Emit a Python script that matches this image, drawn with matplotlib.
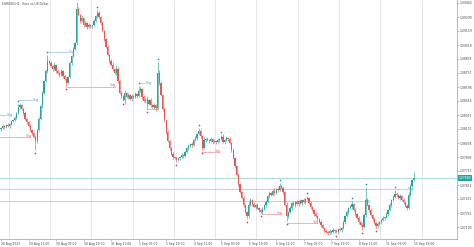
import matplotlib

matplotlib.use("Agg")
import matplotlib.pyplot as plt  # noqa: E402
import numpy as np  # noqa: E402

BULL = "#26a69a"
BEAR = "#ef5350"
BLUE = "#2f7fd8"
BLUE_LINE = "#a9cbee"
RED_LINE = "#f3a3aa"
GRID = "#e3e3e3"
AXIS = "#9a9a9a"
TXT = "#444444"

# hourly closes, 28 Aug 19:00 .. 11 Sep 19:00
closes = [
    1.0818, 1.0820, 1.0819, 1.0821, 1.0820,
    # 29 Aug
    1.0822, 1.0825, 1.0827, 1.0829, 1.0834, 1.0840, 1.0842, 1.0838, 1.0834, 1.0828, 1.0824, 1.0820,
    1.0816, 1.0813, 1.0809, 1.0805, 1.0816, 1.0828, 1.0841, 1.0854, 1.0866, 1.0876, 1.0886, 1.0884,
    # 30 Aug
    1.0881, 1.0878, 1.0882, 1.0876, 1.0874, 1.0872, 1.0876, 1.0871, 1.0868, 1.0864, 1.0870, 1.0884,
    1.0891, 1.0898, 1.0904, 1.0938, 1.0932, 1.0926, 1.0929, 1.0922, 1.0924, 1.0920, 1.0922, 1.0921,
    # 31 Aug
    1.0922, 1.0926, 1.0931, 1.0934, 1.0930, 1.0924, 1.0916, 1.0908, 1.0900, 1.0892, 1.0886, 1.0882,
    1.0878, 1.0874, 1.0878, 1.0866, 1.0854, 1.0851, 1.0847, 1.0854, 1.0850, 1.0852, 1.0848, 1.0851,
    # 1 Sep
    1.0850, 1.0853, 1.0851, 1.0856, 1.0858, 1.0850, 1.0846, 1.0848, 1.0843, 1.0847, 1.0842, 1.0840,
    1.0842, 1.0839, 1.0874, 1.0864, 1.0852, 1.0838, 1.0826, 1.0814, 1.0805, 1.0798, 1.0792, 1.0789,
    # 4 Sep
    1.0788, 1.0786, 1.0788, 1.0789, 1.0791, 1.0790, 1.0794, 1.0798, 1.0800, 1.0802, 1.0801, 1.0806,
    1.0808, 1.0812, 1.0815, 1.0810, 1.0798, 1.0806, 1.0807, 1.0806, 1.0805, 1.0807, 1.0804, 1.0805,
    # 5 Sep
    1.0804, 1.0806, 1.0807, 1.0809, 1.0804, 1.0806, 1.0808, 1.0807, 1.0803, 1.0796, 1.0788, 1.0780,
    1.0771, 1.0762, 1.0754, 1.0748, 1.0741, 1.0734, 1.0730, 1.0741, 1.0746, 1.0742, 1.0739, 1.0741,
    # 6 Sep
    1.0738, 1.0736, 1.0734, 1.0737, 1.0741, 1.0744, 1.0750, 1.0753, 1.0751, 1.0755, 1.0753, 1.0757,
    1.0756, 1.0760, 1.0758, 1.0754, 1.0741, 1.0730, 1.0734, 1.0738, 1.0743, 1.0741, 1.0744, 1.0742,
    # 7 Sep
    1.0745, 1.0743, 1.0746, 1.0744, 1.0747, 1.0748, 1.0743, 1.0739, 1.0736, 1.0732, 1.0730, 1.0727,
    1.0724, 1.0721, 1.0718, 1.0715, 1.0714, 1.0713, 1.0715, 1.0714, 1.0716, 1.0715, 1.0714, 1.0717,
    # 8 Sep
    1.0716, 1.0718, 1.0724, 1.0730, 1.0734, 1.0738, 1.0739, 1.0742, 1.0736, 1.0732, 1.0728, 1.0724,
    1.0721, 1.0719, 1.0731, 1.0746, 1.0741, 1.0736, 1.0731, 1.0727, 1.0723, 1.0720, 1.0722, 1.0724,
    # 11 Sep
    1.0726, 1.0728, 1.0729, 1.0732, 1.0736, 1.0741, 1.0746, 1.0749, 1.0752, 1.0751, 1.0748, 1.0750,
    1.0746, 1.0744, 1.0740, 1.0738, 1.0751, 1.0760, 1.0766, 1.0768,
]
first_open = 1.0817

# wick lengths in pips above / below the body
upper_wick = [
    1, 2, 1, 1, 2,
    1, 2, 1, 2, 1, 3, 2, 1, 1, 2, 1, 1, 2, 1, 1, 2, 1, 2, 1, 2, 1, 2, 6, 1,
    2, 1, 3, 1, 2, 1, 2, 1, 1, 2, 1, 2, 1, 2, 1, 7, 2, 1, 3, 1, 2, 1, 2, 1,
    1, 2, 1, 3, 2, 1, 2, 1, 1, 2, 1, 2, 3, 1, 4, 2, 1, 2, 1, 3, 1, 2, 1, 2,
    1, 2, 1, 5, 2, 1, 2, 1, 3, 1, 2, 1, 2, 1, 11, 3, 2, 1, 2, 1, 2, 1, 1, 2,
    1, 2, 1, 1, 2, 1, 2, 1, 2, 1, 2, 1, 2, 1, 3, 2, 1, 3, 1, 2, 1, 2, 1, 2,
    1, 2, 1, 2, 3, 1, 2, 1, 2, 1, 2, 1, 1, 2, 1, 1, 2, 1, 1, 4, 2, 1, 2, 1,
    2, 1, 1, 2, 1, 2, 1, 2, 1, 2, 3, 1, 2, 3, 1, 2, 1, 3, 1, 2, 1, 2, 1, 2,
    1, 2, 1, 2, 1, 2, 1, 2, 1, 1, 2, 1, 1, 2, 1, 1, 2, 1, 2, 1, 2, 1, 2, 1,
    2, 1, 2, 1, 2, 1, 2, 3, 1, 2, 1, 2, 1, 2, 2, 13, 2, 1, 2, 1, 2, 1, 2, 1,
    1, 2, 1, 2, 1, 2, 1, 2, 4, 2, 1, 2, 1, 2, 1, 2, 3, 2, 1, 6,
]
lower_wick = [
    2, 1, 2, 1, 1,
    2, 1, 1, 2, 1, 1, 2, 1, 2, 1, 2, 1, 1, 2, 1, 9, 2, 1, 1, 2, 1, 1, 2, 1,
    1, 2, 1, 2, 1, 2, 1, 2, 1, 3, 1, 1, 2, 1, 1, 2, 1, 2, 1, 2, 1, 2, 1, 2,
    2, 1, 1, 2, 1, 2, 1, 2, 1, 1, 2, 1, 2, 1, 2, 2, 1, 2, 1, 4, 1, 2, 1, 2,
    2, 1, 2, 1, 1, 2, 1, 2, 5, 1, 2, 1, 2, 3, 1, 2, 1, 2, 1, 2, 1, 2, 1, 2,
    1, 2, 1, 2, 1, 2, 1, 1, 2, 1, 2, 1, 1, 2, 1, 2, 2, 1, 2, 1, 2, 1, 2, 1,
    2, 1, 2, 1, 1, 2, 1, 2, 1, 2, 1, 2, 1, 2, 1, 1, 2, 1, 3, 2, 1, 2, 1, 2,
    1, 2, 1, 2, 1, 2, 1, 2, 1, 1, 2, 1, 2, 1, 1, 2, 1, 5, 2, 1, 2, 1, 2, 1,
    2, 1, 2, 1, 2, 1, 1, 2, 1, 2, 1, 2, 1, 2, 1, 2, 1, 2, 1, 2, 1, 2, 1, 2,
    1, 2, 1, 2, 1, 2, 1, 2, 1, 2, 1, 2, 1, 3, 1, 2, 1, 2, 1, 2, 1, 2, 2, 1,
    2, 1, 2, 1, 2, 1, 2, 1, 1, 2, 1, 2, 1, 2, 1, 2, 1, 2, 1, 1,
]

swing_high_bars = [10, 27, 44, 56, 80, 91, 115, 128, 162, 178, 204, 212, 229]
swing_low_bars = [20, 38, 71, 85, 102, 117, 143, 151, 166, 195, 210, 218]

# signal levels: (start bar, end bar, price)
sig_up = [(-1, 3, 1.0832), (10, 18, 1.0847), (27, 39, 1.0895), (80, 84, 1.0864),
          (-1, 211, 1.0745), (-1, 236, 1.0757)]
sig_dn = [(-1, 17, 1.0809), (38, 66, 1.0860), (85, 91, 1.0838), (117, 127, 1.0794),
          (152, 163, 1.0732), (166, 184, 1.0723)]

day_starts = [5, 29, 53, 77, 101, 125, 149, 173, 197, 221, 245]
x_tick_bars = [0, 16, 32, 48, 64, 80, 96, 112, 128, 144, 160, 176, 192, 208, 224, 240]
x_tick_labels = ["28 Aug 2023", "29 Aug 11:00", "30 Aug 03:00", "30 Aug 19:00",
                 "31 Aug 11:00", "1 Sep 03:00", "1 Sep 19:00", "4 Sep 11:00",
                 "5 Sep 03:00", "5 Sep 19:00", "6 Sep 11:00", "7 Sep 03:00",
                 "7 Sep 19:00", "8 Sep 11:00", "11 Sep 03:00", "11 Sep 19:00"]
price_ticks = [1.09440, 1.09299, 1.09159, 1.09018, 1.08878, 1.08737, 1.08596, 1.08456,
               1.08315, 1.08175, 1.08034, 1.07893, 1.07753, 1.07612, 1.07472, 1.07331,
               1.07190]
last_price = 1.0768

PIP = 0.0001

closes_a = np.array(closes)
opens_a = np.concatenate([[first_open], closes_a[:-1]])
highs_a = np.maximum(opens_a, closes_a) + np.array(upper_wick) * PIP
lows_a = np.minimum(opens_a, closes_a) - np.array(lower_wick) * PIP
bars = np.arange(len(closes_a))
up = closes_a >= opens_a
colors = np.where(up, BULL, BEAR)

fig = plt.figure(figsize=(4.74, 2.47), dpi=100)
ax = fig.add_axes([0, 8 / 247, 457 / 474, 239 / 247])
ax.set_xlim(-0.58, 265.1)
ax.set_ylim(1.0707, 1.0947)

for d in day_starts:
    ax.axvline(d - 0.5, color=GRID, lw=0.6, zorder=0)

# level lines
ax.axhline(last_price, color="#9ed6d0", lw=0.6, zorder=1)
for b0, b1, p in sig_up:
    ax.plot([b0, b1], [p, p], color=BLUE_LINE, lw=0.6, zorder=1)
    ax.text(b1 + 0.3, p, "Sig", color="#5b9de6", fontsize=2.8, ha="left", va="center")
for b0, b1, p in sig_dn:
    ax.plot([b0, b1], [p, p], color=RED_LINE, lw=0.6, zorder=1)
    ax.text(b1 - 2.5, p + 0.00012, "Sig", color="#ee6b78", fontsize=2.8, ha="left",
            va="center")

ax.vlines(bars, lows_a, highs_a, colors=colors, lw=0.45, zorder=2)
body = np.abs(closes_a - opens_a)
body = np.maximum(body, 0.00005)
ax.bar(bars, body, bottom=np.minimum(opens_a, closes_a), width=0.72, color=colors,
       linewidth=0, zorder=3)

ax.scatter(swing_high_bars, highs_a[swing_high_bars] + 3 * PIP, s=1.4, color=BLUE,
           linewidths=0, zorder=4)
ax.scatter(swing_low_bars, lows_a[swing_low_bars] - 3 * PIP, s=1.4, color="#d63a48",
           linewidths=0, zorder=4)

for s in ("top", "left"):
    ax.spines[s].set_visible(False)
for s in ("right", "bottom"):
    ax.spines[s].set_color(AXIS)
    ax.spines[s].set_linewidth(0.5)

ax.yaxis.tick_right()
ax.set_yticks(price_ticks)
ax.set_yticklabels([f"{p:.5f}" for p in price_ticks])
ax.set_xticks(x_tick_bars)
ax.set_xticklabels(x_tick_labels, ha="left")
ax.tick_params(axis="both", length=1.2, width=0.4, color=AXIS, labelsize=2.2,
               labelcolor=TXT, pad=0.6)

ax.annotate(f"{last_price:.5f}", xy=(1.0, last_price), xycoords=("axes fraction", "data"),
            xytext=(1.2, 0), textcoords="offset points", fontsize=2.2, color="white",
            va="center", ha="left",
            bbox=dict(boxstyle="square,pad=0.3", fc=BULL, ec="none"))

fig.text(0.004, 0.992, "EURUSD,H1:  Euro vs US Dollar", fontsize=2.2, color=TXT,
         ha="left", va="top")

fig.savefig("out.png", dpi=100, facecolor="white")
